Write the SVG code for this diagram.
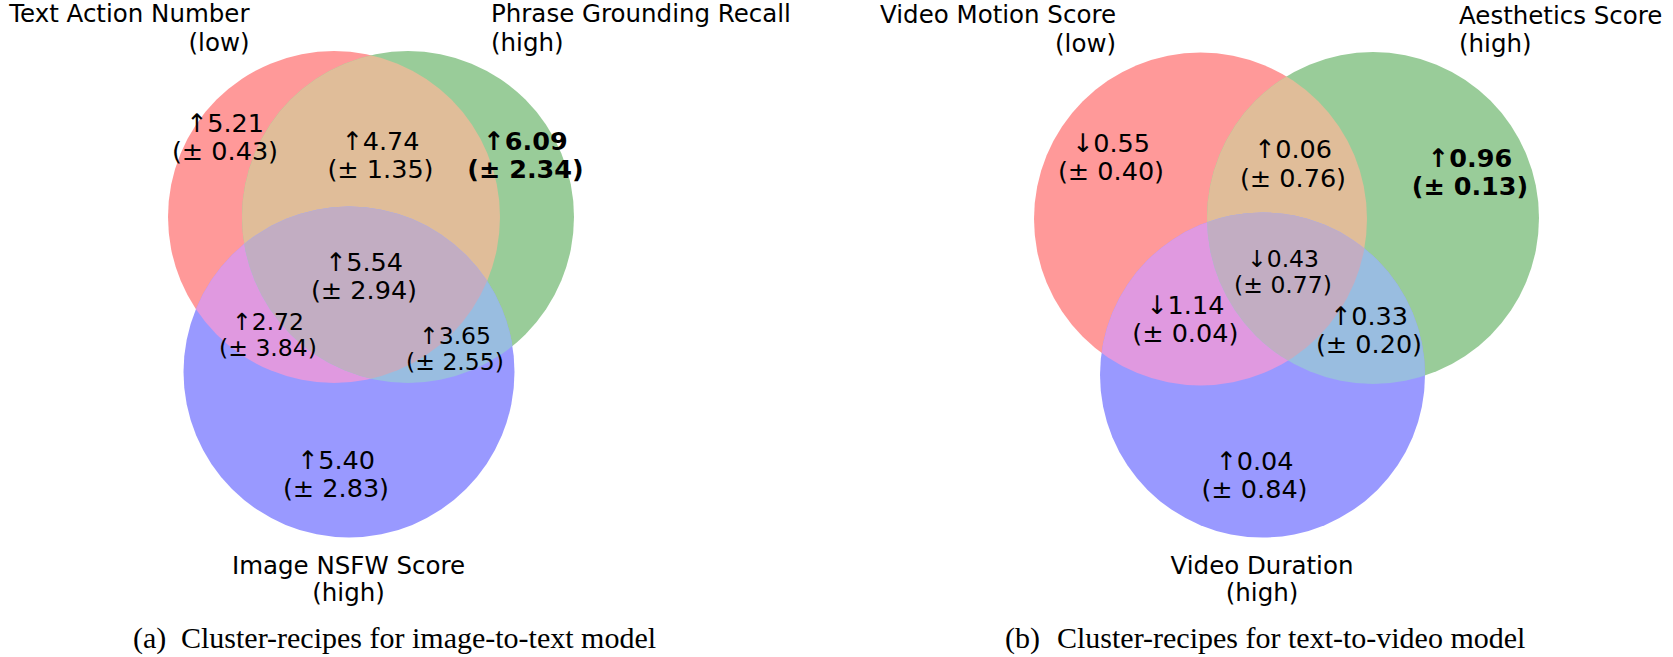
<svg xmlns="http://www.w3.org/2000/svg" width="1673" height="657" viewBox="0 0 1673 657">
<style>
text{font-family:"DejaVu Sans","Liberation Sans",sans-serif;fill:#000}
.set{font-size:24.5px}
.reg{font-size:25.5px;text-anchor:middle}
.sm{font-size:23.5px;text-anchor:middle}
.b{font-weight:bold}
.mid{text-anchor:middle}
.end{text-anchor:end}
.cap{font-family:"Liberation Serif","Times New Roman",serif;font-size:30px}
</style>
<defs>
<clipPath id="aR"><circle cx="334" cy="217" r="166"/></clipPath>
<clipPath id="aG"><circle cx="408" cy="217" r="166"/></clipPath>
<clipPath id="bR"><circle cx="1200.5" cy="219" r="166.5"/></clipPath>
<clipPath id="bG"><circle cx="1373" cy="218" r="166"/></clipPath>
</defs>
<rect width="1673" height="657" fill="#fff"/>

<g id="venn-a">
  <g id="a-circles">
    <circle cx="334" cy="217" r="166" fill="#FF9999"/>
    <circle cx="408" cy="217" r="166" fill="#99CC99"/>
    <circle cx="349" cy="372" r="165.5" fill="#9999FF"/>
    <circle cx="408" cy="217" r="166" fill="#E0BD99" clip-path="url(#aR)"/>
    <circle cx="349" cy="372" r="165.5" fill="#E099E0" clip-path="url(#aR)"/>
    <circle cx="349" cy="372" r="165.5" fill="#99BDE0" clip-path="url(#aG)"/>
    <g clip-path="url(#aR)"><circle cx="349" cy="372" r="165.5" fill="#C2ADC2" clip-path="url(#aG)"/></g>
  </g>
  <g id="a-set-red"><text class="set end" x="249.5" y="22">Text Action Number</text><text class="set end" x="249.5" y="50.5">(low)</text></g>
  <g id="a-set-green"><text class="set" x="491" y="22">Phrase Grounding Recall</text><text class="set" x="491" y="50.5">(high)</text></g>
  <g id="a-set-blue"><text class="set mid" x="348.5" y="574">Image NSFW Score</text><text class="set mid" x="348.5" y="600.5">(high)</text></g>
  <g id="a-r100"><text class="reg" x="225" y="131.7">↑5.21</text><text class="reg" x="225" y="160">(± 0.43)</text></g>
  <g id="a-r110"><text class="reg" x="380.5" y="150">↑4.74</text><text class="reg" x="380.5" y="178.3">(± 1.35)</text></g>
  <g id="a-r010"><text class="reg b" x="525.5" y="150">↑6.09</text><text class="reg b" x="525.5" y="178.3">(± 2.34)</text></g>
  <g id="a-r111"><text class="reg" x="364" y="270.7">↑5.54</text><text class="reg" x="364" y="299">(± 2.94)</text></g>
  <g id="a-r101"><text class="sm" x="268" y="329.5">↑2.72</text><text class="sm" x="268" y="355.5">(± 3.84)</text></g>
  <g id="a-r011"><text class="sm" x="455" y="344">↑3.65</text><text class="sm" x="455" y="370">(± 2.55)</text></g>
  <g id="a-r001"><text class="reg" x="336" y="469">↑5.40</text><text class="reg" x="336" y="497">(± 2.83)</text></g>
  <g id="a-caption"><text class="cap" y="647.5"><tspan x="133">(a)</tspan><tspan x="181">Cluster-recipes for image-to-text model</tspan></text></g>
</g>

<g id="venn-b">
  <g id="b-circles">
    <circle cx="1200.5" cy="219" r="166.5" fill="#FF9999"/>
    <circle cx="1373" cy="218" r="166" fill="#99CC99"/>
    <circle cx="1262.5" cy="375" r="162.5" fill="#9999FF"/>
    <circle cx="1373" cy="218" r="166" fill="#E0BD99" clip-path="url(#bR)"/>
    <circle cx="1262.5" cy="375" r="162.5" fill="#E099E0" clip-path="url(#bR)"/>
    <circle cx="1262.5" cy="375" r="162.5" fill="#99BDE0" clip-path="url(#bG)"/>
    <g clip-path="url(#bR)"><circle cx="1262.5" cy="375" r="162.5" fill="#C2ADC2" clip-path="url(#bG)"/></g>
  </g>
  <g id="b-set-red"><text class="set end" x="1116" y="23">Video Motion Score</text><text class="set end" x="1116" y="51.8">(low)</text></g>
  <g id="b-set-green"><text class="set" x="1459" y="23.5">Aesthetics Score</text><text class="set" x="1459" y="52">(high)</text></g>
  <g id="b-set-blue"><text class="set mid" x="1262" y="573.5">Video Duration</text><text class="set mid" x="1262" y="600.5">(high)</text></g>
  <g id="b-r100"><text class="reg" x="1111" y="151.7">↓0.55</text><text class="reg" x="1111" y="180">(± 0.40)</text></g>
  <g id="b-r110"><text class="reg" x="1293" y="158.3">↑0.06</text><text class="reg" x="1293" y="186.7">(± 0.76)</text></g>
  <g id="b-r010"><text class="reg b" x="1470" y="166.7">↑0.96</text><text class="reg b" x="1470" y="195">(± 0.13)</text></g>
  <g id="b-r111"><text class="sm" x="1283" y="266.7">↓0.43</text><text class="sm" x="1283" y="293.3">(± 0.77)</text></g>
  <g id="b-r101"><text class="reg" x="1185.3" y="314">↓1.14</text><text class="reg" x="1185.3" y="342">(± 0.04)</text></g>
  <g id="b-r011"><text class="reg" x="1369" y="325">↑0.33</text><text class="reg" x="1369" y="353.3">(± 0.20)</text></g>
  <g id="b-r001"><text class="reg" x="1254.5" y="470">↑0.04</text><text class="reg" x="1254.5" y="497.5">(± 0.84)</text></g>
  <g id="b-caption"><text class="cap" y="647.5"><tspan x="1005">(b)</tspan><tspan x="1057">Cluster-recipes for text-to-video model</tspan></text></g>
</g>
</svg>
